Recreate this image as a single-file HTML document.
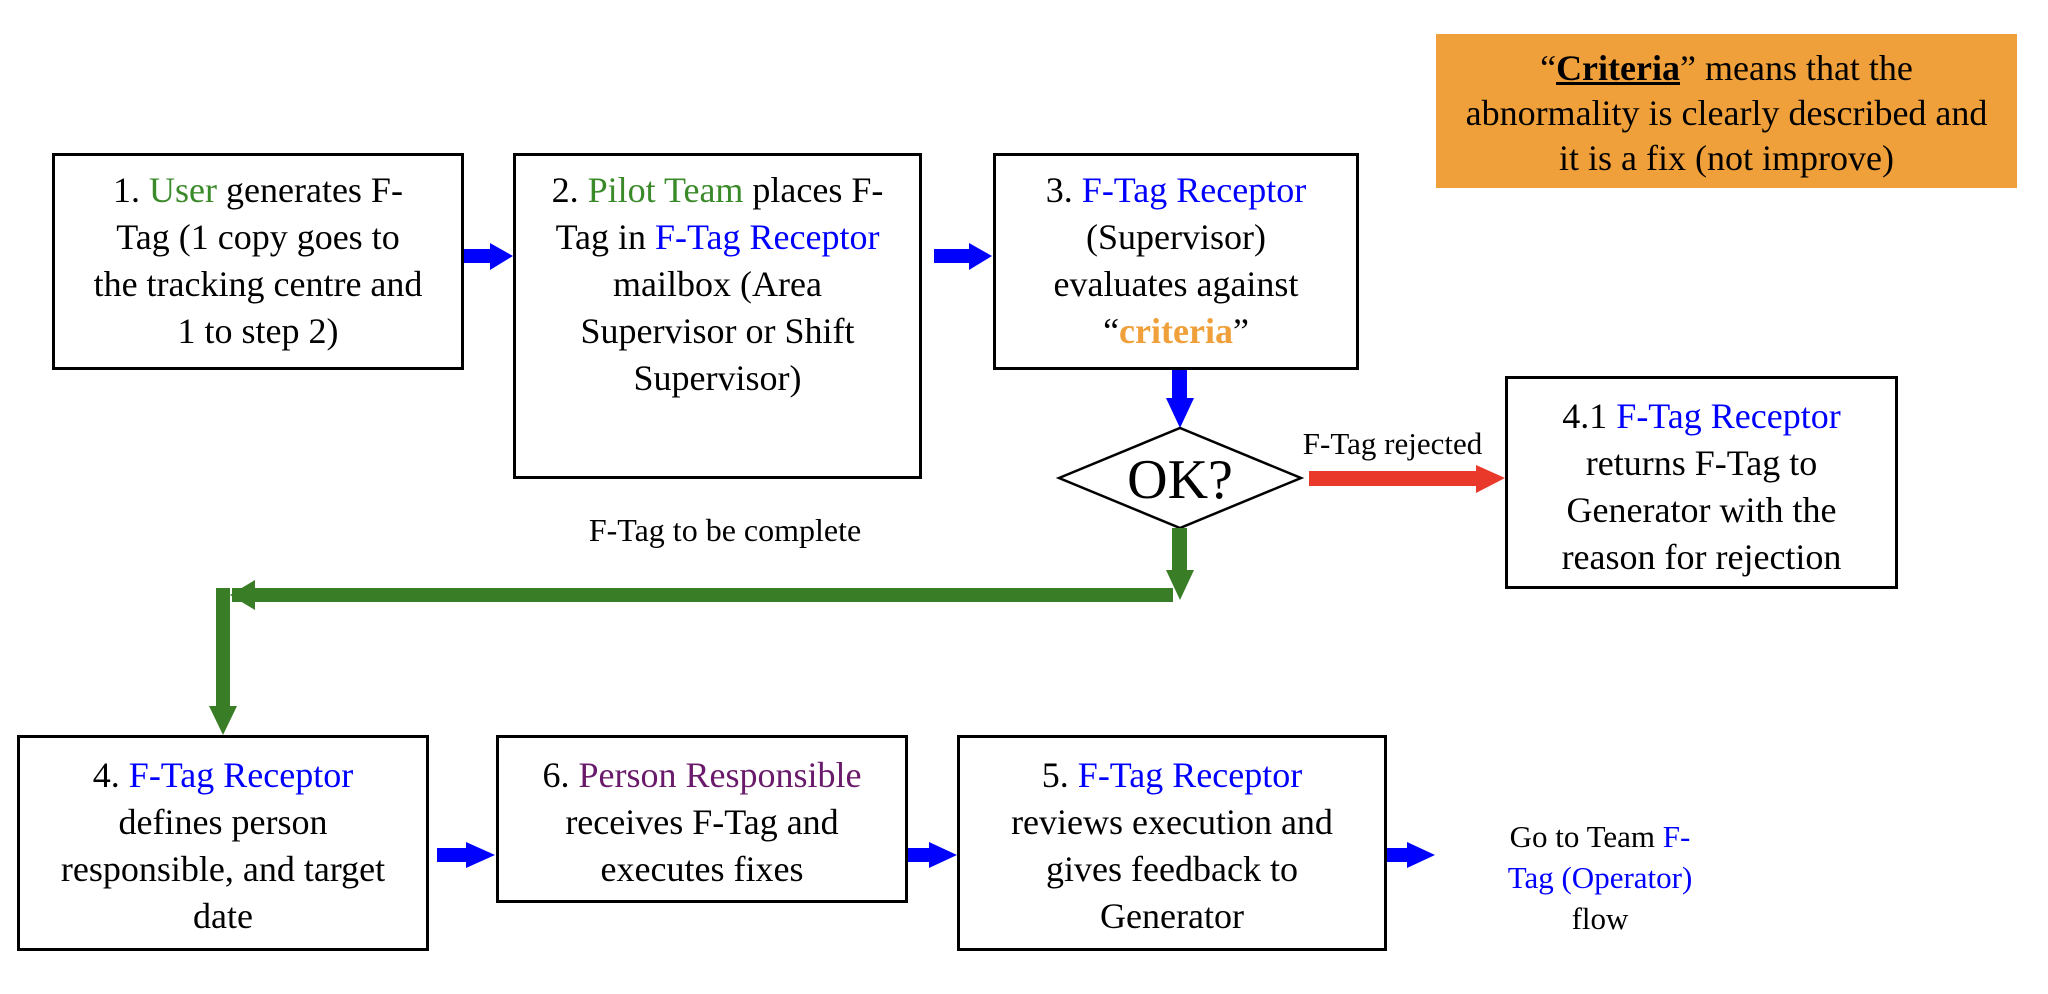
<!DOCTYPE html>
<html><head><meta charset="utf-8"><style>
html,body{margin:0;padding:0;background:#fff;}
#c{position:relative;width:2048px;height:994px;overflow:hidden;font-family:"Liberation Serif","Times New Roman",Times,serif;color:#000;}
.b,.t{font-family:"Liberation Serif","Times New Roman",Times,serif;}
.b{position:absolute;box-sizing:border-box;border:3px solid #000;background:#fff;text-align:center;font-size:36px;line-height:47px;padding-top:11px;}
.t{position:absolute;text-align:center;font-size:36px;line-height:47px;}
.g{color:#3a8a2a}.bl{color:#0000ff}.p{color:#6a1a6a}.o{color:#f0a03a;font-weight:bold}
svg{position:absolute;left:0;top:0;}
</style></head><body><div id="c">
<svg width="2048" height="994">
 <polygon points="455,249 490,249 490,243 513,256 490,270 490,263 455,263" fill="#0000ff"/>
 <polygon points="934,249 969,249 969,243 992,256 969,270 969,263 934,263" fill="#0000ff"/>
 <polygon points="1172,370 1187,370 1187,398 1194,398 1180,428 1166,398 1172,398" fill="#0000ff"/>
 <polygon points="1059,478 1180,428 1301,478 1180,528" fill="#fff" stroke="#000" stroke-width="2.5"/>
 <text x="1180" y="498" font-family="Liberation Serif, serif" font-size="56" text-anchor="middle">OK?</text>
 <polygon points="1309,471 1476,471 1476,465 1505,478 1476,493 1476,486 1309,486" fill="#e8392a"/>
 <polygon points="1172,528 1187,528 1187,570 1194,570 1180,600 1166,570 1172,570" fill="#3a7d27"/>
 <rect x="232" y="588" width="941" height="14" fill="#3a7d27"/>
 <polygon points="230,595 255,580 255,610" fill="#3a7d27"/>
 <rect x="216" y="588" width="14" height="122" fill="#3a7d27"/>
 <polygon points="209,706 237,706 223,735" fill="#3a7d27"/>
 <polygon points="437,848 466,848 466,842 495,855 466,868 466,862 437,862" fill="#0000ff"/>
 <polygon points="900,848 929,848 929,842 957,855 929,868 929,862 900,862" fill="#0000ff"/>
 <polygon points="1378,848 1407,848 1407,842 1435,855 1407,868 1407,862 1378,862" fill="#0000ff"/>
</svg>
<div style="position:absolute;left:1436px;top:34px;width:581px;height:154px;background:#f0a03a;"></div>
<div class="t" style="left:1436px;top:46px;width:581px;line-height:45px;">“<b><u>Criteria</u></b>” means that the<br>abnormality is clearly described and<br>it is a fix (not improve)</div>

<div class="b" style="left:52px;top:153px;width:412px;height:217px;">1. <span class="g">User</span> generates F-<br>Tag (1 copy goes to<br>the tracking centre and<br>1 to step 2)</div>
<div class="b" style="left:513px;top:153px;width:409px;height:326px;">2. <span class="g">Pilot Team</span> places F-<br>Tag in <span class="bl">F-Tag Receptor</span><br>mailbox (Area<br>Supervisor or Shift<br>Supervisor)</div>
<div class="b" style="left:993px;top:153px;width:366px;height:217px;">3. <span class="bl">F-Tag Receptor</span><br>(Supervisor)<br>evaluates against<br>“<span class="o">criteria</span>”</div>
<div class="t" style="left:560px;top:510px;width:330px;font-size:32px;line-height:40px;">F-Tag to be complete</div>
<div class="t" style="left:1285px;top:424px;width:215px;font-size:31px;line-height:40px;">F-Tag rejected</div>
<div class="b" style="left:1505px;top:376px;width:393px;height:213px;padding-top:14px;">4.1 <span class="bl">F-Tag Receptor</span><br>returns F-Tag to<br>Generator with the<br>reason for rejection</div>

<div class="b" style="left:17px;top:735px;width:412px;height:216px;padding-top:14px;">4. <span class="bl">F-Tag Receptor</span><br>defines person<br>responsible, and target<br>date</div>
<div class="b" style="left:496px;top:735px;width:412px;height:168px;padding-top:14px;">6. <span class="p">Person Responsible</span><br>receives F-Tag and<br>executes fixes</div>
<div class="b" style="left:957px;top:735px;width:430px;height:216px;padding-top:14px;">5. <span class="bl">F-Tag Receptor</span><br>reviews execution and<br>gives feedback to<br>Generator</div>
<div class="t" style="left:1480px;top:816px;width:240px;font-size:31px;line-height:41px;">Go to Team <span class="bl">F-<br>Tag (Operator)</span><br>flow</div>
</div></body></html>
